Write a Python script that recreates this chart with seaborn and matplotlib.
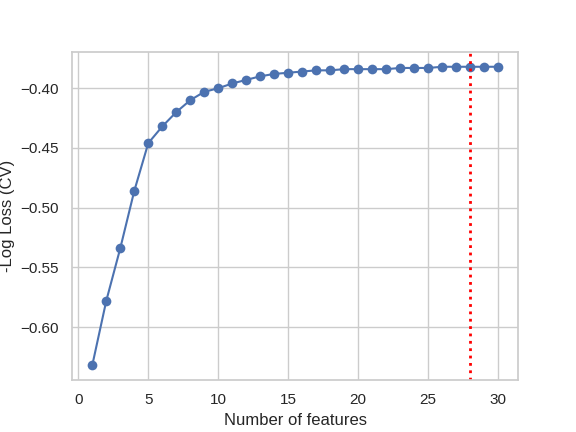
import matplotlib
matplotlib.use("Agg")
import matplotlib.pyplot as plt
import seaborn as sns
import numpy as np

sns.set_theme(style="whitegrid")
plt.rcParams['font.family'] = ['Liberation Sans', 'DejaVu Sans']

n_features = list(range(1, 31))
scores = [-0.632, -0.578, -0.534, -0.486, -0.446, -0.432, -0.420, -0.410, -0.403, -0.400,
          -0.396, -0.393, -0.390, -0.388, -0.387, -0.386, -0.385, -0.385, -0.384, -0.384,
          -0.384, -0.384, -0.383, -0.383, -0.383, -0.382, -0.382, -0.382, -0.382, -0.382]
best_n = 28

fig, ax = plt.subplots(figsize=(5.76, 4.32), dpi=100)
fig.subplots_adjust(bottom=0.12)
sns.lineplot(x=n_features, y=scores, marker="o", markersize=7, markeredgewidth=0, ax=ax)
ax.axvline(best_n, color="red", linestyle=":", linewidth=2)
ax.set_xlabel("Number of features")
ax.set_ylabel("-Log Loss (CV)")
fig.savefig("out.png")
